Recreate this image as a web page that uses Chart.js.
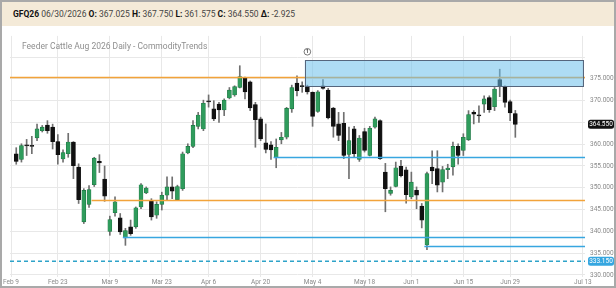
<!DOCTYPE html>
<html>
<head>
<meta charset="utf-8">
<script src="https://cdn.jsdelivr.net/npm/chart.js@4/dist/chart.umd.min.js"></script>
<style>
  html, body { margin: 0; padding: 0; background: #fff; }
  #frame { position: relative; width: 612px; height: 284px; border: 2px solid #a9a9a9; overflow: hidden;
           font-family: Roboto, "Liberation Sans", sans-serif; }
  #hdr { position: absolute; left: 0; top: 0; width: 612px; height: 24px; background: #f4ead8;
         font-size: 8.5px; line-height: 24px; color: #444; padding-left: 11px; box-sizing: border-box; }
  #hdr b { color: #111; }
  #title { position: absolute; left: 20px; top: 39px; font-size: 8.5px; color: #8f8f8f; }
  #wrap { position: absolute; left: 0; top: 25px; width: 612px; height: 259px; }
</style>
</head>
<body>
<div id="frame">
  <div id="hdr"><b>GFQ26</b> 06/30/2026 <b>O:</b> 367.025 <b>H:</b> 367.750 <b>L:</b> 361.575 <b>C:</b> 364.550 <b>Δ:</b> -2.925</div>
  <div id="wrap"><canvas id="chart" width="612" height="259"></canvas></div>
  <div id="title">Feeder Cattle Aug 2026 Daily - CommodityTrends</div>
</div>
<script>
// ---- axis calendar ----
const holidays = ['Feb 16', 'Apr 3', 'May 25', 'Jun 19'];
const firstBar = 'Feb 10';
const lastBar = 'Jun 30';
const axisEnd = 'Jul 13';
const tickLabels = ['Feb 9', 'Feb 23', 'Mar 9', 'Mar 23', 'Apr 6', 'Apr 20', 'May 4', 'May 18', 'Jun 1', 'Jun 15', 'Jun 29', 'Jul 13'];
const yTicks = [330, 335, 340, 345, 350, 355, 360, 365, 370, 375, 380];
const yHidden = [365, 380];

// ---- OHLC, Feb 10 .. Jun 30 ----
const opens = [
  357.8, 356.5, 359.8, 359.6, 361.45, 363.1, 364.4, 363.9, 360.6, 356.6,
  357.8, 360.5, 354.75, 342.2, 346.2, 350.7, 356.05, 352.0, 340.0, 344.3,
  343.1, 338.5, 341.05, 341.05, 345.6, 348.8, 346.9, 343.7, 346.2, 348.3,
  350.2, 347.3, 349.8, 358.0, 359.5, 364.1, 363.5, 369.8, 368.1, 369.2,
  367.85, 370.6, 371.3, 373.0, 375.2, 374.3, 369.1, 365.8, 360.3, 359.85,
  357.0, 361.0, 361.6, 368.1, 374.0, 373.3, 373.25, 371.9, 367.5, 373.4,
  372.4, 368.3, 364.65, 364.8, 357.65, 363.5, 356.5, 362.9, 357.4, 363.9,
  365.4, 353.6, 348.7, 350.3, 354.9, 354.1, 347.9, 349.4, 345.8, 336.9,
  354.76, 354.4, 351.3, 354.15, 354.8, 359.5, 358.6, 361.0, 367.3, 366.6,
  369.2, 370.7, 368.6, 374.8, 373.25, 369.75, 367.025
];
const highs = [
  359.2, 360.1, 361.1, 361.8, 364.6, 364.3, 365.4, 364.6, 362.2, 358.7,
  362.5, 360.6, 355.5, 349.8, 350.5, 357.0, 357.6, 355.0, 343.5, 347.9,
  344.1, 340.7, 342.6, 345.6, 350.95, 350.2, 347.5, 346.8, 349.0, 352.5,
  352.5, 350.6, 358.2, 360.1, 365.4, 367.3, 370.1, 371.3, 369.98, 369.6,
  370.4, 373.0, 373.4, 378.0, 375.4, 374.5, 369.6, 366.2, 364.65, 360.6,
  361.2, 362.7, 368.45, 373.55, 375.7, 374.3, 373.55, 372.0, 372.3, 374.8,
  372.8, 368.45, 367.3, 367.3, 363.9, 364.1, 362.0, 363.66, 364.1, 366.2,
  365.6, 355.6, 350.2, 355.9, 356.3, 354.75, 353.6, 350.2, 346.4, 353.6,
  358.5, 358.5, 354.9, 355.4, 360.5, 360.1, 362.4, 367.7, 367.7, 368.8,
  371.1, 371.1, 373.0, 377.2, 373.4, 370.1, 367.75
];
const lows = [
  355.4, 355.9, 357.4, 357.8, 360.8, 362.8, 362.5, 358.9, 355.4, 355.9,
  357.0, 352.1, 346.4, 341.8, 345.5, 350.3, 353.5, 346.9, 339.1, 343.5,
  339.3, 336.8, 339.1, 340.7, 345.2, 348.65, 342.6, 343.0, 344.9, 347.1,
  347.5, 347.1, 349.4, 357.8, 359.2, 363.5, 363.1, 368.5, 365.4, 365.0,
  366.55, 370.4, 371.0, 372.9, 370.4, 367.7, 359.3, 360.8, 358.0, 356.5,
  354.6, 360.1, 361.2, 367.3, 371.1, 371.9, 371.5, 364.1, 367.3, 372.6,
  365.8, 361.6, 360.8, 356.7, 352.1, 357.0, 356.05, 358.2, 357.3, 363.66,
  356.5, 344.5, 348.3, 350.2, 352.5, 346.5, 347.5, 345.2, 340.8, 335.8,
  350.95, 349.05, 349.05, 352.1, 352.9, 355.4, 357.4, 360.85, 364.65, 365.0,
  367.3, 367.3, 367.7, 370.9, 368.5, 365.4, 361.575
];
const closes = [
  356.05, 359.7, 359.6, 359.5, 363.5, 363.9, 363.1, 360.6, 357.6, 358.1,
  360.5, 355.1, 347.3, 349.4, 349.6, 356.8, 355.7, 348.1, 342.7, 346.8,
  339.9, 340.2, 339.5, 345.4, 350.7, 349.95, 343.3, 346.2, 348.3, 350.2,
  349.2, 350.3, 357.8, 359.5, 364.3, 366.7, 369.4, 369.7, 365.8, 367.85,
  370.1, 372.4, 373.2, 375.5, 372.0, 368.3, 365.6, 361.2, 358.8, 358.7,
  359.3, 361.6, 368.2, 373.0, 372.3, 373.2, 372.0, 366.4, 372.0, 372.8,
  366.0, 364.1, 362.0, 357.4, 360.85, 357.8, 361.4, 358.6, 363.66, 365.8,
  356.7, 349.8, 349.4, 354.6, 352.8, 348.4, 351.3, 348.3, 342.6, 353.25,
  353.85, 350.6, 354.15, 354.5, 359.5, 357.4, 361.6, 366.8, 366.9, 366.5,
  370.4, 367.9, 372.65, 373.2, 369.6, 367.2, 364.55
];

// ---- drawn levels ----
const levelValues = [375.35, 347.1, 357.1, 338.6, 336.6];
const levelFrom   = [null, 'Mar 4', 'Apr 23', 'Mar 12', 'Jun 4'];
const levelKind   = ['resistance', 'resistance', 'support', 'support', 'support'];
const targetValue = 333.15;
const zoneFrom = 'May 1';
const zoneTo = 'Jul 13';
const zoneTop = 379.3;
const zoneBottom = 373.3;
const markerValue = 381.2;

// build axis labels: trading days through the last bar, calendar days after it
const MONTHS = ['Jan','Feb','Mar','Apr','May','Jun','Jul','Aug','Sep','Oct','Nov','Dec'];
function buildAxis() {
  const out = [];
  let d = new Date(Date.UTC(2026, 1, 9));
  let pastLast = false;
  while (true) {
    const lab = MONTHS[d.getUTCMonth()] + ' ' + d.getUTCDate();
    const wd = d.getUTCDay();
    if (pastLast) out.push(lab);
    else if (wd !== 0 && wd !== 6 && !holidays.includes(lab)) out.push(lab);
    if (lab === lastBar) pastLast = true;
    if (lab === axisEnd) break;
    d = new Date(d.getTime() + 86400000);
  }
  return out;
}
const axis = buildAxis();
const start = axis.indexOf(firstBar);
const idx = lab => axis.indexOf(lab);

const GREEN = '#2f9c5c', GREEN_EDGE = '#1f7443', BLACK = '#111111';
const upDown = opens.map((o, i) => closes[i] >= o);

const wickData = lows.map((l, i) => ({ x: start + i, y: [l, highs[i]] }));
const bodyData = opens.map((o, i) => ({ x: start + i, y: [o, closes[i]] }));

const overlays = {
  id: 'overlays',
  afterDatasetsDraw(chart) {
    const { ctx, chartArea: a, scales: { x, y } } = chart;
    const slot = x.getPixelForValue(1) - x.getPixelForValue(0);
    ctx.save();
    ctx.beginPath();
    ctx.rect(a.left, a.top, a.width, a.height);
    ctx.clip();

    // horizontal levels
    levelValues.forEach((v, i) => {
      const x0 = levelFrom[i] ? x.getPixelForValue(idx(levelFrom[i])) - slot / 2 : a.left;
      const py = Math.round(y.getPixelForValue(v)) + 0.5;
      ctx.strokeStyle = levelKind[i] === 'resistance' ? '#f2a33a' : '#38a6e0';
      ctx.lineWidth = 1.3;
      ctx.beginPath();
      ctx.moveTo(x0, py);
      ctx.lineTo(a.right, py);
      ctx.stroke();
    });

    // target dashed line
    const ty = y.getPixelForValue(targetValue);
    ctx.strokeStyle = '#2ea3c9';
    ctx.lineWidth = 1.5;
    ctx.setLineDash([4, 3]);
    ctx.beginPath();
    ctx.moveTo(a.left, ty);
    ctx.lineTo(a.right, ty);
    ctx.stroke();
    ctx.setLineDash([]);

    // zone box
    const zx0 = x.getPixelForValue(idx(zoneFrom)) - slot / 2;
    const zx1 = x.getPixelForValue(idx(zoneTo));
    const zy0 = y.getPixelForValue(zoneTop);
    const zy1 = y.getPixelForValue(zoneBottom);
    ctx.fillStyle = 'rgba(108,191,235,0.55)';
    ctx.fillRect(zx0, zy0, zx1 - zx0, zy1 - zy0);
    ctx.strokeStyle = '#56667d';
    ctx.lineWidth = 1;
    ctx.strokeRect(Math.round(zx0) + 0.5, Math.round(zy0) + 0.5, Math.round(zx1 - zx0), Math.round(zy1 - zy0));

    // marker
    const mx = x.getPixelForValue(idx(zoneFrom));
    const my = y.getPixelForValue(markerValue);
    ctx.strokeStyle = '#555';
    ctx.lineWidth = 0.8;
    ctx.beginPath();
    ctx.arc(mx, my, 3.3, 0, Math.PI * 2);
    ctx.stroke();
    ctx.fillStyle = '#444';
    ctx.font = 'bold 5px Roboto, sans-serif';
    ctx.textAlign = 'center';
    ctx.textBaseline = 'middle';
    ctx.fillText('1', mx, my + 0.3);
    ctx.restore();
  },
  afterDraw(chart) {
    const { ctx, chartArea: a, scales: { y } } = chart;
    const tag = (v, bg) => {
      const py = y.getPixelForValue(v);
      ctx.fillStyle = bg;
      ctx.beginPath();
      ctx.roundRect(a.right + 3, py - 4.5, 26, 9, 2.5);
      ctx.fill();
      ctx.fillStyle = '#fff';
      ctx.font = '6.5px Roboto, sans-serif';
      ctx.textAlign = 'center';
      ctx.textBaseline = 'middle';
      ctx.fillText(v.toFixed(3), a.right + 16, py + 0.5);
    };
    ctx.save();
    tag(closes[closes.length - 1], '#111');
    tag(targetValue, '#35a6e0');
    ctx.restore();
  }
};

new Chart(document.getElementById('chart'), {
  type: 'bar',
  data: {
    datasets: [
      {
        label: 'wick',
        data: wickData,
        backgroundColor: '#707070',
        barThickness: 1,
        grouped: false,
        order: 2
      },
      {
        label: 'body',
        data: bodyData,
        backgroundColor: upDown.map(u => u ? GREEN : BLACK),
        borderColor: upDown.map(u => u ? GREEN_EDGE : BLACK),
        borderWidth: 0.6,
        borderSkipped: false,
        barThickness: 4,
        minBarLength: 1,
        grouped: false,
        order: 1
      }
    ]
  },
  options: {
    responsive: false,
    animation: false,
    devicePixelRatio: 1,
    layout: { padding: { left: 8, top: 8, right: 0, bottom: 0 } },
    plugins: { legend: { display: false }, tooltip: { enabled: false } },
    scales: {
      x: {
        type: 'linear',
        min: -0.2,
        max: 110.4,
        offset: false,
        grid: { color: '#e8e8e8', offset: false, drawTicks: false },
        border: { display: false },
        afterBuildTicks: s => { s.ticks = tickLabels.map(l => ({ value: idx(l) })); },
        afterFit: s => { s.height = 9; },
        ticks: {
          autoSkip: false,
          maxRotation: 0,
          padding: 1,
          color: '#8a8a8a',
          font: { size: 6.5, family: 'Roboto, sans-serif' },
          callback: v => axis[v]
        }
      },
      y: {
        position: 'right',
        min: 329.54,
        max: 384.84,
        grid: { color: '#e8e8e8', drawTicks: false },
        border: { display: false },
        afterBuildTicks: s => { s.ticks = yTicks.map(v => ({ value: v })); },
        afterFit: s => { s.width = 29; },
        ticks: {
          padding: 5,
          color: '#8a8a8a',
          font: { size: 6.5, family: 'Roboto, sans-serif' },
          callback: v => yHidden.includes(v) ? '' : v.toFixed(3)
        }
      }
    }
  },
  plugins: [overlays]
});
</script>
</body>
</html>
